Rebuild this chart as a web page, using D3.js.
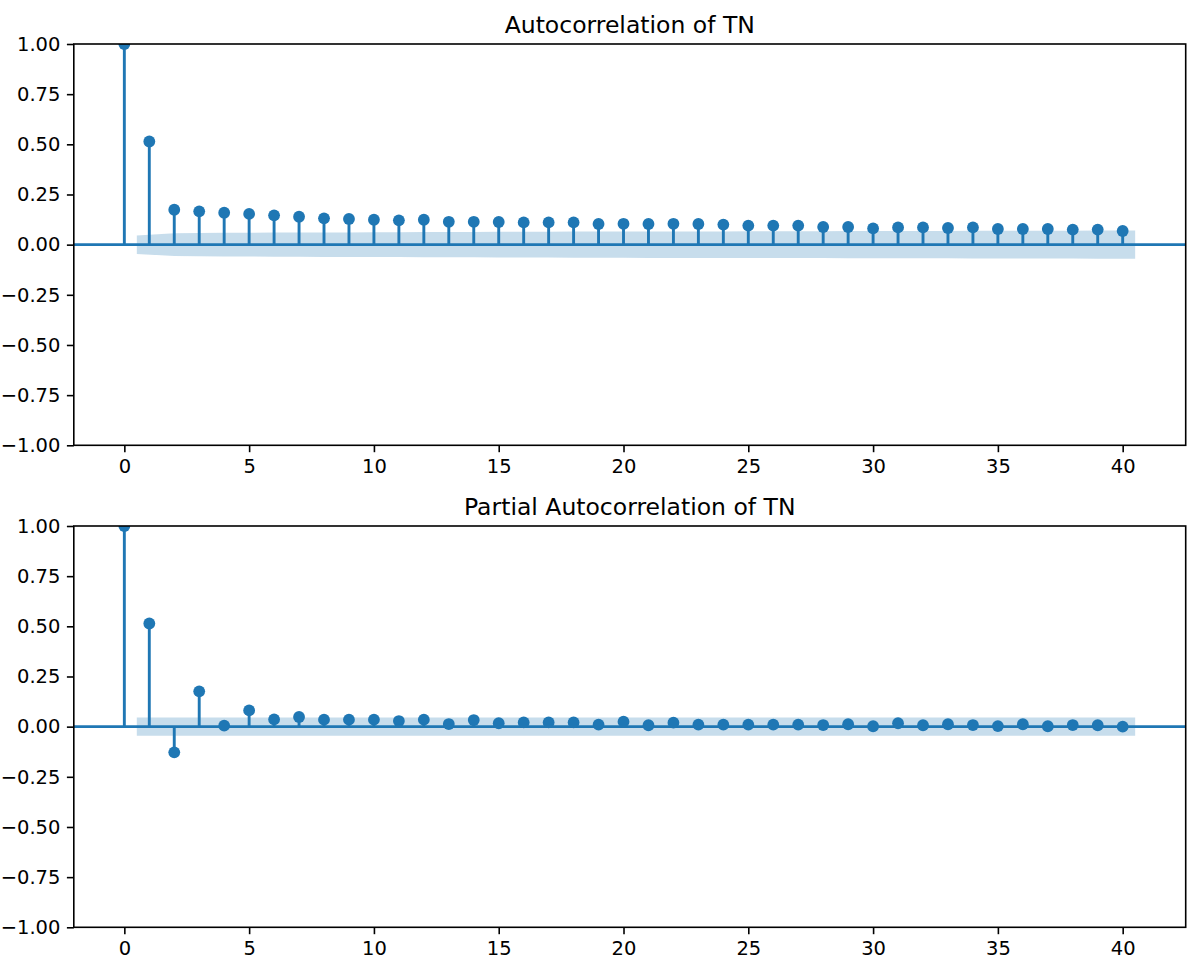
<!DOCTYPE html>
<html>
<head>
<meta charset="utf-8">
<script src="https://cdn.jsdelivr.net/npm/d3@7"></script>
<style>
  html, body { margin: 0; padding: 0; background: #fff; }
  svg { display: block; font-family: "DejaVu Sans", sans-serif; }
</style>
</head>
<body>
<svg id="chart" width="1200" height="975"></svg>
<script>
// ---- data ----
const lags = d3.range(0, 41);
const acfValues = [1.000, 0.514, 0.174, 0.166, 0.159, 0.153, 0.146, 0.139, 0.131, 0.128,
  0.124, 0.121, 0.124, 0.114, 0.114, 0.113, 0.111, 0.111, 0.111, 0.103,
  0.104, 0.103, 0.104, 0.103, 0.100, 0.095, 0.095, 0.095, 0.088, 0.088,
  0.081, 0.086, 0.086, 0.083, 0.086, 0.078, 0.078, 0.078, 0.075, 0.075, 0.068];
const pacfValues = [1.000, 0.514, -0.128, 0.176, 0.005, 0.081, 0.036, 0.048, 0.035, 0.035,
  0.035, 0.028, 0.035, 0.013, 0.033, 0.017, 0.021, 0.021, 0.021, 0.010,
  0.025, 0.007, 0.020, 0.010, 0.010, 0.010, 0.010, 0.010, 0.008, 0.012,
  0.002, 0.017, 0.007, 0.012, 0.008, 0.003, 0.012, 0.002, 0.008, 0.007, 0.000];
// half-width of the confidence band for lags 1..40
const acfBand = [0.046, 0.057, 0.058, 0.059, 0.059, 0.060, 0.060, 0.061, 0.061, 0.062,
  0.062, 0.063, 0.063, 0.063, 0.064, 0.064, 0.064, 0.065, 0.065, 0.065,
  0.066, 0.066, 0.066, 0.066, 0.067, 0.067, 0.067, 0.067, 0.068, 0.068,
  0.068, 0.068, 0.068, 0.069, 0.069, 0.069, 0.069, 0.069, 0.070, 0.070];
const pacfBand = [0.045, 0.045, 0.045, 0.045, 0.045, 0.045, 0.045, 0.045, 0.045, 0.045,
  0.045, 0.045, 0.045, 0.045, 0.045, 0.045, 0.045, 0.045, 0.045, 0.045,
  0.045, 0.045, 0.045, 0.045, 0.045, 0.045, 0.045, 0.045, 0.045, 0.045,
  0.045, 0.045, 0.045, 0.045, 0.045, 0.045, 0.045, 0.045, 0.045, 0.045];
const xTicks = [0, 5, 10, 15, 20, 25, 30, 35, 40];
const yTicks = [-1, -0.75, -0.5, -0.25, 0, 0.25, 0.5, 0.75, 1];
const titles = ["Autocorrelation of TN", "Partial Autocorrelation of TN"];

// ---- drawing ----
const svg = d3.select("#chart");
const C0 = "#1f77b4";
const left = 73.8, right = 1185.7, plotH = 401.3;
const panelTops = [44, 526];
const fmt = v => (v < 0 ? "\u2212" : "") + Math.abs(v).toFixed(2);

function panel(idx, values, band) {
  const top = panelTops[idx], bottom = top + plotH;
  const x = d3.scaleLinear().domain([-2.025, 42.525]).range([left, right]);
  const y = d3.scaleLinear().domain([-1, 1]).range([bottom, top]);
  const g = svg.append("g");
  const clipId = "clip" + idx;
  g.append("clipPath").attr("id", clipId)
    .append("rect").attr("x", left).attr("y", top).attr("width", right - left).attr("height", plotH);
  const inner = g.append("g").attr("clip-path", `url(#${clipId})`);

  // confidence band (lags 1..40, ends shifted by 0.5)
  const bandPts = band.map((b, i) => {
    let lx = i + 1;
    if (i === 0) lx -= 0.5;
    if (i === band.length - 1) lx += 0.5;
    return { x: lx, b };
  });
  inner.append("path")
    .datum(bandPts)
    .attr("d", d3.area().x(d => x(d.x)).y0(d => y(-d.b)).y1(d => y(d.b)))
    .attr("fill", C0).attr("fill-opacity", 0.25).attr("stroke", "none");

  // stems
  inner.selectAll("line.stem").data(lags).enter().append("line")
    .attr("x1", d => x(d)).attr("x2", d => x(d))
    .attr("y1", y(0)).attr("y2", d => y(values[d]))
    .attr("stroke", C0).attr("stroke-width", 2.9);

  // zero line
  inner.append("line")
    .attr("x1", left).attr("x2", right).attr("y1", y(0)).attr("y2", y(0))
    .attr("stroke", C0).attr("stroke-width", 2.9);

  // markers
  inner.selectAll("circle").data(lags).enter().append("circle")
    .attr("cx", d => x(d)).attr("cy", d => y(values[d])).attr("r", 5.9)
    .attr("fill", C0);

  // axes
  const xAxis = d3.axisBottom(x).tickValues(xTicks).tickSize(6.9).tickPadding(6.5).tickFormat(d3.format("d"));
  const yAxis = d3.axisLeft(y).tickValues(yTicks).tickSize(6.9).tickPadding(6.5).tickFormat(fmt);
  const gx = g.append("g").attr("transform", `translate(0,${bottom})`).call(xAxis);
  const gy = g.append("g").attr("transform", `translate(${left},0)`).call(yAxis);
  [gx, gy].forEach(a => {
    a.select(".domain").remove();
    a.selectAll(".tick line").attr("stroke", "#000").attr("stroke-width", 1.6);
    a.selectAll(".tick text").attr("fill", "#000").attr("font-size", 19.5)
      .attr("font-family", "DejaVu Sans, sans-serif");
  });

  // frame
  g.append("rect").attr("x", left).attr("y", top).attr("width", right - left).attr("height", plotH)
    .attr("fill", "none").attr("stroke", "#000").attr("stroke-width", 1.6);

  // title
  g.append("text").attr("x", (left + right) / 2).attr("y", top - 11)
    .attr("text-anchor", "middle").attr("font-size", 23.5).attr("fill", "#000")
    .text(titles[idx]);
}

panel(0, acfValues, acfBand);
panel(1, pacfValues, pacfBand);
</script>
</body>
</html>
